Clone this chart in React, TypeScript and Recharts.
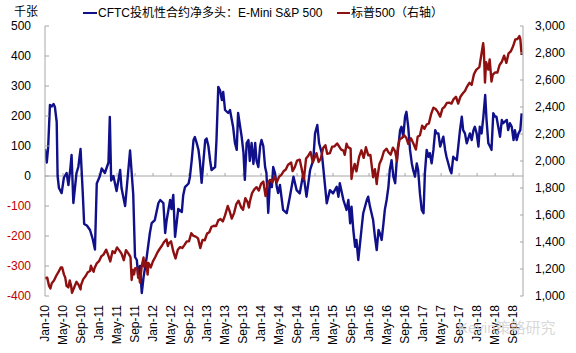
import React from 'react';
import { LineChart, Line, XAxis, YAxis, ReferenceLine } from 'recharts';

// time in months since Jan 2010
const cftcT = [
  0.0, 0.4, 0.7, 1.1, 1.5, 1.9, 2.2, 2.6, 2.8, 3.1, 3.7, 4.2, 4.8, 5.2, 5.6, 5.9, 6.3, 7.0, 7.4, 7.9,
  8.4, 8.7, 9.3, 10.0, 10.6, 11.1, 11.5, 12.2, 12.6, 13.3, 14.1, 14.4, 14.7, 15.2, 15.9, 16.7, 17.0, 17.8, 18.9, 19.6,
  20.0, 20.4, 20.7, 21.1, 21.5, 21.9, 22.6, 23.3, 23.7, 24.4, 25.2, 25.6, 26.3, 26.7, 27.0, 27.8, 28.1, 28.5, 28.9, 29.3,
  29.6, 30.4, 30.7, 31.1, 31.9, 32.2, 32.6, 33.0, 33.3, 33.7, 34.1, 34.4, 34.8, 35.2, 35.6, 35.9, 36.3, 36.7, 37.0, 37.8,
  38.1, 38.5, 38.9, 39.3, 39.6, 40.0, 40.7, 41.1, 41.8, 42.2, 42.6, 42.9, 43.7, 44.1, 44.4, 44.8, 45.2, 45.5, 45.9, 46.3,
  46.7, 47.0, 47.4, 47.8, 48.1, 48.5, 48.9, 49.2, 49.6, 50.0, 50.4, 50.7, 51.1, 51.5, 51.8, 52.2, 52.9, 53.7, 54.4, 55.2,
  55.9, 56.6, 57.4, 58.1, 58.9, 59.6, 60.0, 60.5, 60.9, 61.5, 61.8, 62.6, 63.3, 64.0, 64.8, 65.2, 65.5, 66.3, 67.0, 67.4,
  67.8, 68.1, 68.5, 68.9, 69.2, 69.6, 70.0, 70.3, 70.7, 71.5, 71.8, 72.2, 72.9, 73.3, 73.7, 74.1, 74.4, 74.8, 75.2, 75.5,
  75.9, 76.3, 76.6, 77.0, 77.4, 77.8, 78.1, 78.9, 79.2, 79.6, 80.0, 80.3, 80.7, 81.1, 81.5, 81.8, 82.2, 82.6, 82.9, 83.3,
  83.7, 84.1, 84.4, 84.8, 85.2, 85.5, 85.9, 86.3, 86.7, 87.0, 87.4, 87.8, 88.5, 88.9, 89.2, 90.0, 90.3, 90.7, 91.5, 92.2,
  92.6, 92.9, 93.3, 93.7, 94.4, 94.8, 95.2, 95.5, 95.9, 96.3, 96.6, 97.0, 97.4, 97.8, 98.1, 98.5, 98.9, 99.2, 99.6, 100.0,
  100.3, 100.7, 101.1, 101.5, 101.8, 102.6, 102.9, 103.3, 103.7, 104.1, 104.4, 104.8, 105.2, 105.6, 105.9,
];
// CFTC speculative net long, thousand contracts
const cftcV = [
  90, 45, 95, 237, 232, 240, 230, 180, 0, -40, -57, -5, 10, -30, 20, 70, -90, 10, 30, 90,
  -60, -160, -165, -180, -210, -245, -25, 0, 25, 10, 45, 197, -15, 0, -50, 20, -40, -100, 85, -60,
  -270, -280, -330, -300, -390, -337, -270, -190, -157, -147, -90, -80, -90, -190, -150, -80, -110, -63, -203, -150,
  -110, -120, -65, -37, -25, -3, 53, 120, 130, 110, 87, 50, -23, 50, 120, 125, 100, 50, 20, 30,
  120, 297, 285, 253, 280, 220, 210, 220, 163, 110, 87, 210, 130, 77, -13, 110, 120, 50, 110, 40,
  110, 50, 30, 100, 120, 100, 30, 10, -123, -13, -37, 30, 10, -37, -57, -30, -113, -124, -69, -2,
  -47, -58, 9, -69, 20, 53, 142, 170, 109, 76, 31, -91, -47, -58, -36, -69, -24, -80, -113, -80,
  -158, -102, -180, -236, -213, -280, -224, -180, -124, -80, -69, -102, -147, -202, -247, -180, -191, -213, -158, -113,
  -80, -36, 20, 53, -2, -24, 42, 153, 164, 131, 198, 214, 164, 87, 42, 20, -2, 42, 20, -58,
  -113, -124, 9, 87, 64, 76, 42, 87, 153, 142, 142, 98, 131, 87, 64, 20, 9, 64, 53, 153,
  198, 153, 142, 109, 142, 120, 153, 164, 142, 98, 164, 142, 198, 270, 187, 109, 98, 87, 209, 198,
  198, 164, 131, 187, 176, 187, 153, 176, 164, 120, 153, 120, 142, 153, 209,
];

const spxT = [
  0.0, 0.5, 0.9, 1.2, 1.5, 2.0, 2.5, 3.0, 3.5, 3.8, 4.0, 4.2, 4.5, 4.8, 5.0, 5.2, 5.5, 5.8, 6.0, 6.5,
  7.0, 7.5, 7.9, 8.0, 8.5, 9.0, 9.5, 10.0, 10.2, 10.5, 10.8, 11.0, 11.5,
  12.0, 12.5, 13.0, 13.6, 14.0, 14.5, 15.0, 15.5, 16.0, 16.5, 17.0, 17.5, 18.0, 18.5, 18.8, 19.0, 19.25, 19.5, 19.8, 20.0,
  20.5, 20.7, 21.0, 21.1, 21.5, 21.9, 22.0, 22.3, 22.5, 22.8, 23.0, 23.5,
  24.0, 24.5, 25.0, 25.5, 26.0, 26.5, 27.0, 27.3, 27.5, 28.0, 28.5, 29.0, 29.5, 30.0, 30.5, 31.0, 31.5, 32.0, 32.5, 33.0,
  33.5, 34.0, 34.5, 35.0, 35.5,
  36.0, 36.5, 37.0, 37.5, 38.0, 38.5, 39.0, 39.5, 40.0, 40.6, 41.0, 41.5, 42.0, 42.5, 43.0, 43.6, 44.0, 44.5, 45.0, 45.3,
  45.5, 46.0, 46.5, 47.0, 47.5,
  48.0, 48.5, 49.0, 49.5, 50.0, 50.5, 51.0, 51.5, 52.0, 52.5, 53.0, 53.5, 54.0, 54.7, 55.0, 55.5, 56.0, 56.6, 57.0, 57.5,
  58.0, 58.5, 59.0, 59.5,
  60.3, 60.8, 61.3, 61.8, 62.3, 62.7, 63.3, 63.8, 64.3, 64.9, 65.3, 65.8, 66.3, 66.6, 67.0, 67.3, 67.9, 68.1, 68.3, 68.8,
  69.2, 69.8, 70.3, 70.8, 71.3, 71.8,
  72.3, 72.9, 73.3, 73.7, 73.8, 74.3, 74.8, 75.3, 75.9, 76.3, 76.8, 77.3, 77.8, 78.2, 78.4, 78.8, 79.3, 79.8, 80.3, 80.7,
  80.8, 81.3, 81.8, 82.4, 82.8, 83.3, 83.8,
  84.3, 84.8, 85.3, 85.8, 86.3, 86.8, 87.3, 87.8, 88.3, 88.8, 89.3, 89.8, 90.3, 90.8, 91.3, 91.8, 92.3, 92.8, 93.3, 93.8,
  94.3, 94.8, 95.3, 95.8,
  96.5, 97.0, 97.35, 97.5, 97.75, 98.0, 98.5, 98.8, 99.2, 99.5, 100.0, 100.5, 101.0, 101.5, 102.0, 102.5, 103.0, 103.5, 104.0, 104.5,
  105.0, 105.4, 105.6, 105.9,
];
// S&P 500 index level (right axis)
const spxV = [
  1133, 1136, 1074, 1056, 1095, 1115, 1150, 1178, 1211, 1212, 1187, 1160, 1136, 1074, 1070, 1064, 1115, 1076, 1023, 1065,
  1105, 1080, 1049, 1080, 1125, 1146, 1176, 1185, 1225, 1199, 1180, 1206, 1242,
  1258, 1293, 1307, 1343, 1306, 1256, 1332, 1319, 1360, 1338, 1314, 1265, 1340, 1316, 1300, 1287, 1119, 1193, 1160, 1204,
  1209, 1136, 1131, 1099, 1224, 1285, 1218, 1240, 1251, 1159, 1244, 1212,
  1258, 1289, 1324, 1350, 1374, 1402, 1419, 1370, 1390, 1405, 1330, 1278, 1342, 1362, 1356, 1379, 1405, 1406, 1465, 1445,
  1440, 1427, 1355, 1416, 1413,
  1462, 1472, 1513, 1520, 1518, 1560, 1570, 1552, 1597, 1667, 1631, 1573, 1614, 1680, 1706, 1656, 1639, 1725, 1695, 1656,
  1698, 1762, 1790, 1806, 1781,
  1831, 1848, 1741, 1838, 1859, 1841, 1885, 1842, 1883, 1897, 1924, 1937, 1973, 1988, 1925, 1955, 2003, 2010, 1946, 1862,
  2018, 2039, 2067, 1990,
  2058, 1993, 2020, 2096, 2117, 2053, 2059, 2106, 2108, 2130, 2111, 2084, 2077, 2046, 2128, 2103, 2092, 1867, 1914, 1978,
  1923, 2033, 2079, 2023, 2102, 2043,
  2044, 1880, 1940, 1829, 1865, 1978, 2015, 2072, 2091, 2065, 2047, 2099, 2071, 2000, 2102, 2161, 2171, 2190, 2170, 2127,
  2139, 2168, 2133, 2085, 2180, 2191, 2262,
  2239, 2270, 2279, 2349, 2395, 2385, 2362, 2329, 2388, 2402, 2430, 2432, 2425, 2459, 2476, 2425, 2476, 2500, 2519, 2553,
  2579, 2564, 2642, 2675,
  2695, 2798, 2873, 2822, 2581, 2732, 2677, 2752, 2588, 2640, 2656, 2655, 2711, 2735, 2780, 2727, 2798, 2813, 2850, 2901,
  2904, 2925, 2905, 2785,
];

const xTickMonths = [0, 4, 8, 12, 16, 20, 24, 28, 32, 36, 40, 44, 48, 52, 56, 60, 64, 68, 72, 76, 80, 84, 88, 92, 96, 100, 104];
const xTickLabels = [
  'Jan-10', 'May-10', 'Sep-10', 'Jan-11', 'May-11', 'Sep-11', 'Jan-12', 'May-12', 'Sep-12',
  'Jan-13', 'May-13', 'Sep-13', 'Jan-14', 'May-14', 'Sep-14', 'Jan-15', 'May-15', 'Sep-15',
  'Jan-16', 'May-16', 'Sep-16', 'Jan-17', 'May-17', 'Sep-17', 'Jan-18', 'May-18', 'Sep-18',
];
const leftTicks = [-400, -300, -200, -100, 0, 100, 200, 300, 400, 500];
const rightTicks = [1000, 1200, 1400, 1600, 1800, 2000, 2200, 2400, 2600, 2800, 3000];

const cftcData = cftcT.map((t, i) => ({ t, v: cftcV[i] }));
const spxData = spxT.map((t, i) => ({ t, v: spxV[i] }));

const FONT = '"Liberation Sans", Arial, "Noto Sans CJK SC", sans-serif';
const BLUE = '#10108A';
const RED = '#8E1010';
const NEG_RED = '#C00000';
const GRAY = '#A6A6A6';

function LeftTick(props: any) {
  const { x, y, payload } = props;
  const v = payload.value;
  return (
    <text x={x} y={y} dy="0.355em" textAnchor="end" fontSize={12} fontFamily={FONT} fill={v < 0 ? NEG_RED : '#000'}>
      {v}
    </text>
  );
}

function RightTick(props: any) {
  const { x, y, payload } = props;
  return (
    <text x={x} y={y} dy="0.355em" textAnchor="start" fontSize={12} fontFamily={FONT} fill="#000">
      {Number(payload.value).toLocaleString('en-US')}
    </text>
  );
}

function BottomTick(props: any) {
  const { x, y, payload } = props;
  const idx = xTickMonths.indexOf(payload.value);
  const label = idx >= 0 ? xTickLabels[idx] : '';
  return (
    <text
      x={x}
      y={y}
      dy="0.35em"
      transform={`rotate(-90 ${x} ${y})`}
      textAnchor="end"
      fontSize={12}
      fontFamily={FONT}
      fill="#000"
    >
      {label}
    </text>
  );
}

export default function App() {
  return (
    <div style={{ position: 'fixed', left: 0, top: 0, width: 576, height: 353, background: '#fff' }}>
      <LineChart width={576} height={353} margin={{ top: 26, right: 0, bottom: 0, left: 0 }}>
        <XAxis
          dataKey="t"
          type="number"
          domain={[0, 106.2]}
          ticks={xTickMonths}
          interval={0}
          allowDataOverflow
          axisLine={false}
          tickLine={false}
          tickSize={0}
          tickMargin={9}
          height={57}
          tick={<BottomTick />}
        />
        <YAxis
          yAxisId="left"
          domain={[-400, 500]}
          ticks={leftTicks}
          interval={0}
          width={45}
          axisLine={{ stroke: GRAY }}
          tickLine={{ stroke: GRAY }}
          tickSize={-4}
          tickMargin={18}
          tick={<LeftTick />}
        />
        <YAxis
          yAxisId="right"
          orientation="right"
          domain={[1000, 3000]}
          ticks={rightTicks}
          interval={0}
          width={53}
          axisLine={{ stroke: GRAY }}
          tickLine={{ stroke: GRAY }}
          tickSize={-3}
          tickMargin={15}
          tick={<RightTick />}
        />
        <ReferenceLine yAxisId="left" y={0} stroke={GRAY} strokeWidth={1} />
        {xTickMonths.slice(1).map((m) => (
          <ReferenceLine
            key={m}
            yAxisId="left"
            segment={[{ x: m, y: 0 }, { x: m, y: 10 }]}
            stroke={GRAY}
            strokeWidth={1}
          />
        ))}
        <Line
          data={cftcData}
          dataKey="v"
          yAxisId="left"
          type="linear"
          stroke={BLUE}
          strokeWidth={2.4}
          strokeLinejoin="round"
          dot={false}
          isAnimationActive={false}
        />
        <Line
          data={spxData}
          dataKey="v"
          yAxisId="right"
          type="linear"
          stroke={RED}
          strokeWidth={2.4}
          strokeLinejoin="round"
          dot={false}
          isAnimationActive={false}
        />
      </LineChart>
      <svg
        width={576}
        height={353}
        style={{ position: 'absolute', left: 0, top: 0, pointerEvents: 'none' }}
        fontFamily={FONT}
      >
        <text x={14} y={16} fontSize={12} fill="#000">千张</text>
        <line x1={83} y1={13} x2={97} y2={13} stroke={BLUE} strokeWidth={2} />
        <text x={98} y={17} fontSize={12} fill="#000">CFTC投机性合约净多头：E-Mini S&amp;P 500</text>
        <line x1={337} y1={13} x2={350} y2={13} stroke={RED} strokeWidth={2} />
        <text x={351} y={17} fontSize={12} fill="#000">标普500（右轴）</text>
        <text x={458} y={333} fontSize={15} fill="#d4d4d4" fillOpacity={0.9}>Kevin策略研究</text>
      </svg>
    </div>
  );
}
